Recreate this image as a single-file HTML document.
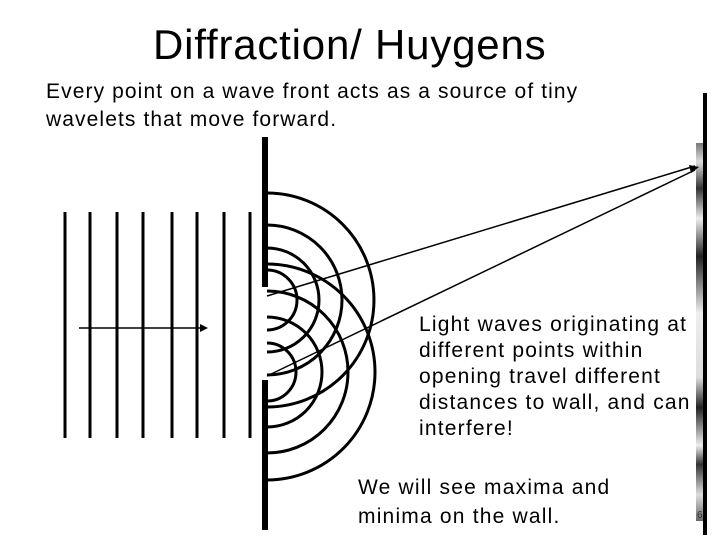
<!DOCTYPE html>
<html><head><style>
body{margin:0;width:720px;height:540px;background:#fff;overflow:hidden;position:relative;font-family:"Liberation Sans",sans-serif;}
.t{position:absolute;color:#000;white-space:nowrap;}
</style></head><body>
<div class="t" style="left:153px;top:21px;font-size:42px;letter-spacing:0.8px;">Diffraction/ Huygens</div>
<div class="t" style="left:46px;top:78px;font-size:21px;line-height:28px;letter-spacing:1.1px;">Every point on a wave front acts as a source of tiny<br>wavelets that move forward.</div>
<div class="t" style="left:419px;top:312px;font-size:21px;line-height:26px;letter-spacing:1.2px;">Light waves originating at<br>different points within<br>opening travel different<br>distances to wall, and can<br>interfere!</div>
<div class="t" style="left:358px;top:473px;font-size:21px;line-height:29px;letter-spacing:1.2px;">We will see maxima and<br>minima on the wall.</div>
<svg width="720" height="540" style="position:absolute;left:0;top:0">
<defs>
<linearGradient id="g" x1="0" y1="0" x2="0" y2="1">
<stop offset="0" stop-color="#777"/>
<stop offset="0.05" stop-color="#ddd"/>
<stop offset="0.12" stop-color="#333"/>
<stop offset="0.2" stop-color="#eee"/>
<stop offset="0.3" stop-color="#222"/>
<stop offset="0.45" stop-color="#eee"/>
<stop offset="0.62" stop-color="#ddd"/>
<stop offset="0.7" stop-color="#222"/>
<stop offset="0.8" stop-color="#eee"/>
<stop offset="0.85" stop-color="#333"/>
<stop offset="0.93" stop-color="#ddd"/>
<stop offset="1" stop-color="#666"/>
</linearGradient>
</defs>
<rect x="696" y="143" width="7" height="378" fill="url(#g)"/>
<rect x="703" y="93" width="4" height="442" fill="#000"/>
<g stroke="#000" stroke-width="3">
<line x1="65" y1="212" x2="65" y2="438"/><line x1="90" y1="212" x2="90" y2="438"/>
<line x1="117" y1="212" x2="117" y2="438"/><line x1="143" y1="212" x2="143" y2="438"/>
<line x1="172" y1="212" x2="172" y2="438"/><line x1="197" y1="212" x2="197" y2="438"/>
<line x1="224" y1="212" x2="224" y2="438"/><line x1="250" y1="212" x2="250" y2="438"/>
</g>
<line x1="79" y1="328" x2="202" y2="328" stroke="#000" stroke-width="1.5"/>
<polygon points="208,328 200,324 200,332" fill="#000"/>
<rect x="262" y="137" width="6" height="150" fill="#000"/>
<rect x="262" y="380" width="6" height="150" fill="#000"/>
<g fill="none" stroke="#000" stroke-width="3">
<path d="M267 193 A107 107 0 0 1 267 407"/>
<path d="M267 225 A75 75 0 0 1 267 375"/>
<path d="M267 248 A52 52 0 0 1 267 352"/>
<path d="M267 270 A30 30 0 0 1 267 330"/>
<path d="M267 264 A108 108 0 0 1 267 480"/>
<path d="M267 291 A81 81 0 0 1 267 453"/>
<path d="M267 317 A55 55 0 0 1 267 427"/>
<path d="M267 343 A29 29 0 0 1 267 401"/>
</g>
<g stroke="#000" stroke-width="1.5">
<line x1="267" y1="296" x2="695" y2="166"/>
<line x1="267" y1="376" x2="695" y2="170"/>
</g>
<polygon points="699,167 689,165 691,173" fill="#000"/>
<text x="697" y="518" font-size="10" font-family="Liberation Sans" fill="#333">6</text>
</svg>
</body></html>
